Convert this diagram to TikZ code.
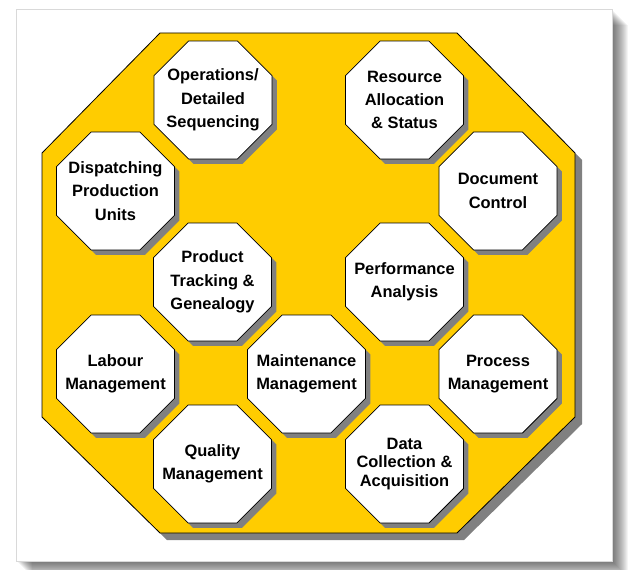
\documentclass[tikz,border=0pt]{standalone}
\usepackage{fontspec}
\setmainfont{Liberation Sans}
\usetikzlibrary{shapes.geometric,shadows}
\definecolor{mesyellow}{HTML}{FFCC00}
\definecolor{shadowgray}{HTML}{808080}

\begin{document}
\begin{tikzpicture}[x=1bp,y=-1bp]
	\tikzset{
		function/.style=
		{regular polygon, regular polygon sides=8, minimum size=127.7bp,
			inner xsep=-40bp, inner ysep=-25bp,
			draw, line width=0.8bp, fill=white, align=center,
			font=\bfseries\fontsize{16.5}{23.5}\selectfont,
			drop shadow={shadow xshift=5bp,shadow yshift=-5bp,fill=shadowgray,opacity=1}},
		tight/.style=
		{font=\bfseries\fontsize{16.5}{18.5}\selectfont},
	}
	\useasboundingbox (0,0) rectangle (629,570);
	\fill[white] (0,0) rectangle (629,570);
	\foreach \d in {2,...,16}
		\fill[black,opacity=.045] (16+\d,9+\d) rectangle (612+\d,561+\d);
	\filldraw[fill=white,draw=black!15] (16,9) rectangle (612,561);
	\filldraw[fill=mesyellow, line width=0.8bp,
		drop shadow={shadow xshift=7bp,shadow yshift=-7bp,fill=shadowgray,opacity=1}]
		(160,33) -- (457,33) -- (575,153) -- (575,417) -- (457,533)
		-- (160,533) -- (42,417) -- (42,153) -- cycle;
	\node[function] (ops) at (213,100) {Operations/\\Detailed\\Sequencing};
	\node[function] (resource) at (404.5,100) {Resource\\Allocation\\\& Status};
	\node[function] (dispatch) at (115.5,191) {Dispatching\\Production\\Units};
	\node[function] (doc) at (498,191) {Document\\Control};
	\node[function] (tracking) at (212.5,282) {Product\\Tracking \&\\Genealogy};
	\node[function] (perf) at (404.5,282) {Performance\\Analysis};
	\node[function] (labour) at (115.5,374) {Labour\\Management};
	\node[function] (maint) at (306.5,374) {Maintenance\\Management};
	\node[function] (process) at (498,374) {Process\\Management};
	\node[function] (quality) at (212.5,464) {Quality\\Management};
	\node[function,tight] (data) at (404.5,464) {Data\\Collection \&\\Acquisition};
\end{tikzpicture}
\end{document}
